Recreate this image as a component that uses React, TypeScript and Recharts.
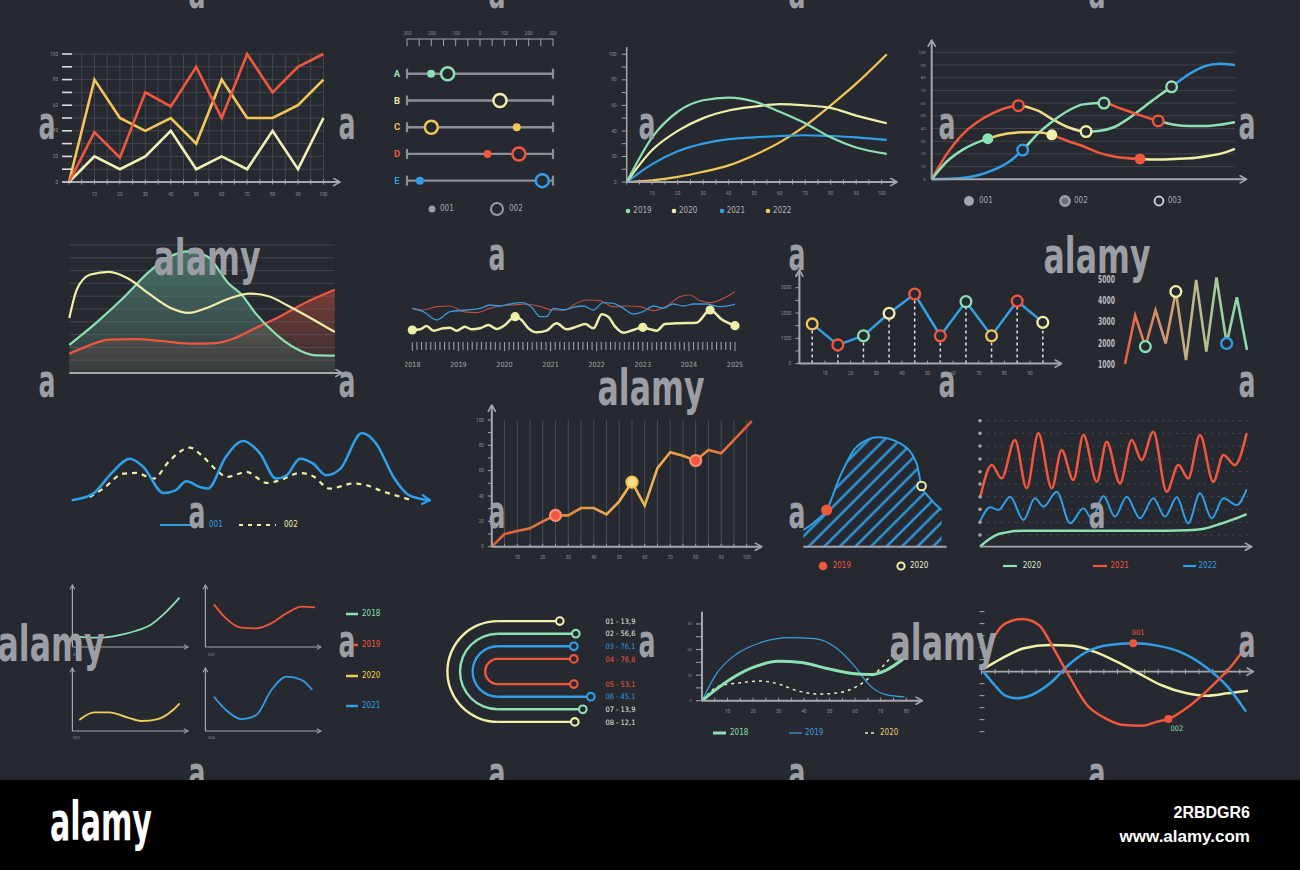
import React from 'react';
import { ComposedChart, LineChart, Line, Area, Scatter, XAxis, YAxis, CartesianGrid, ReferenceLine, PieChart, Pie } from 'recharts';

const BG = '#26292f';
const MINT = '#8ddfb4';
const PALE = '#f1efa9';
const YELLOW = '#f3c658';
const RED = '#f1573d';
const BLUE = '#2f9fe8';
const AXIS = '#a5a7ad';
const TICK = '#8f9198';
const LEG = '#a9abb1';
const FONT = 'Roboto, "DejaVu Sans", sans-serif';
const NARROW = '"Liberation Sans Narrow", "DejaVu Sans Condensed", sans-serif';

// shared tick lists
const T5_100 = [0, 5, 10, 15, 20, 25, 30, 35, 40, 45, 50, 55, 60, 65, 70, 75, 80, 85, 90, 95, 100];
const T10_100 = [0, 10, 20, 30, 40, 50, 60, 70, 80, 90, 100];
const T5_95 = T5_100.slice(0, 20);
const T5_80 = T5_100.slice(0, 17);

// 1. grid line chart
const gridX = [0, 10, 20, 30, 40, 50, 60, 70, 80, 90, 100];
const gridRed = [0, 39, 19, 70, 59, 90, 50, 100, 70, 90, 100];
const gridYellow = [0, 80, 50, 40, 50, 30, 80, 50, 50, 60, 80];
const gridPale = [0, 20, 10, 20, 40, 10, 20, 10, 40, 10, 50];

// 2. sliders
const slRows = ['A', 'B', 'C', 'D', 'E'];
const sl001 = [-201, null, 151, 31, -247];
const sl002 = [-133, 82, -200, 160, 256];
const slTicks = [-300, -250, -200, -150, -100, -50, 0, 50, 100, 150, 200, 250, 300];

// 3. curves
const cvX = [0, 10, 20, 30, 40, 50, 60, 70, 80, 90, 102];
const cv2019 = [0, 35, 55, 64, 66, 63, 55, 46, 35, 27, 22];
const cv2020 = [0, 25, 40, 50, 56, 59, 61, 60, 58, 52, 46];
const cv2021 = [0, 14, 24, 30, 33.5, 35, 36, 36.6, 36, 35, 33];
const cv2022 = [0, 1.3, 4, 8, 13, 21, 31, 44, 60, 77, 100];
const cvYears = ['2019', '2020', '2021', '2022'];

// 4. multi-colour paths
const pathA = [
  { x: 0, y: 0 }, { x: 5, y: 20 }, { x: 10, y: 35 }, { x: 15, y: 45 }, { x: 20, y: 52 }, { x: 28.6, y: 58 },
  { x: 35, y: 54 }, { x: 40, y: 47 }, { x: 45, y: 41 }, { x: 50.9, y: 37.6 }, { x: 55, y: 38 }, { x: 60, y: 41 },
  { x: 65, y: 48 }, { x: 70, y: 57 }, { x: 75, y: 66 }, { x: 79.1, y: 72.8 }, { x: 85, y: 83 }, { x: 90, y: 89 },
  { x: 95, y: 91 }, { x: 100, y: 90 },
];
const pathB = [
  { x: 0, y: 0 }, { x: 5, y: 14 }, { x: 10, y: 23 }, { x: 18.5, y: 32 }, { x: 25, y: 36 }, { x: 30, y: 37 },
  { x: 35, y: 37 }, { x: 39.6, y: 35 }, { x: 45, y: 30 }, { x: 50, y: 26 }, { x: 55, y: 21 }, { x: 60, y: 18 },
  { x: 68.7, y: 16 }, { x: 75, y: 15.5 }, { x: 80, y: 16 }, { x: 85, y: 16.5 }, { x: 90, y: 18 }, { x: 95, y: 20 },
  { x: 100, y: 24 },
];
const pathC = [
  { x: 0, y: 0 }, { x: 10, y: 1 }, { x: 15, y: 3 }, { x: 20, y: 7 }, { x: 25, y: 13 }, { x: 30, y: 23 },
  { x: 35, y: 36 }, { x: 40, y: 46 }, { x: 45, y: 54 }, { x: 50, y: 59 }, { x: 56.8, y: 60 }, { x: 62, y: 56 },
  { x: 68, y: 51 }, { x: 74.7, y: 46 }, { x: 80, y: 43 }, { x: 85, y: 42 }, { x: 90, y: 42 }, { x: 95, y: 43 },
  { x: 100, y: 45 },
];
const markB = [{ x: 18.5, y: 32 }, { x: 39.6, y: 35 }, { x: 68.7, y: 16 }];
const markA = [{ x: 28.6, y: 58 }, { x: 50.9, y: 37.6 }, { x: 79.1, y: 72.8 }];
const markC = [{ x: 30, y: 23 }, { x: 56.8, y: 60 }, { x: 74.7, y: 46 }];

// 5. area chart
const arMintX = [0, 10, 20, 30, 37, 45, 52, 60, 65, 70, 78, 85, 92, 100];
const arMintY = [22, 39, 58, 79, 90, 95, 91, 70, 61, 47, 30, 19.5, 14, 13.5];
const arPaleX = [0, 3, 8, 15, 22, 30, 38, 45, 52, 60, 68, 75, 82, 90, 100];
const arPaleY = [43, 66, 77, 79, 74, 62, 51, 47, 51, 58, 62, 60, 53, 44, 32];
const arRedX = [0, 8, 15, 25, 35, 45, 55, 62, 70, 80, 90, 100];
const arRedY = [15, 22, 26, 26.5, 25, 23, 23.4, 27, 35, 45, 56, 65];

// 6. timeline waves (x in tenths of a year from 2018)
const wvYears = ['2018', '2019', '2020', '2021', '2022', '2023', '2024', '2025'];
const wvPaleX = [0, 1.7, 3.1, 4.6, 6.7, 8.2, 9.6, 11.4, 12.9, 14.7, 16.5, 18.3, 20.1, 22.3, 23.7, 25.2, 27, 29.1, 31.3, 33.5, 35.6, 37.5, 39.3, 41.1, 42.5, 44, 45.8, 47.9, 50, 51.6, 53, 54.8, 57.3, 61.7, 64.6, 67.1, 70];
const wvPaleY = [50, 52, 62, 48, 55, 57, 48, 60, 52, 55, 65, 53, 65, 90, 80, 55, 43, 48, 70, 52, 60, 68, 55, 97, 90, 60, 42, 50, 58, 52, 48, 68, 70, 72, 110, 82, 63];
const wvMarks = [{ x: 0, y: 50 }, { x: 22.3, y: 90 }, { x: 50, y: 58 }, { x: 64.6, y: 110 }, { x: 70, y: 63 }];
const wvBlueX = [0, 2.4, 5.3, 8.2, 11.8, 14.7, 16.8, 19, 21.2, 23.7, 25.9, 27.7, 29.1, 30.6, 32.8, 34.9, 37.1, 39.3, 41.4, 43.6, 45.8, 47.9, 50.1, 52.3, 54.4, 56.6, 58.8, 61, 63.8, 66.7, 70];
const wvBlueY = [115, 105, 80, 105, 110, 115, 125, 122, 128, 132, 118, 90, 90, 115, 110, 118, 122, 110, 132, 130, 115, 98, 105, 122, 115, 128, 122, 128, 128, 120, 127];
const wvRedX = [0, 2.4, 5.3, 8.2, 11.1, 14, 16.8, 19, 21.9, 24.8, 27.7, 30.6, 33.5, 35.6, 37.8, 40.7, 43.6, 46.5, 49.4, 52.3, 55.2, 58.1, 60.2, 62.4, 64.6, 67.5, 70];
const wvRedY = [115, 110, 120, 122, 105, 102, 115, 122, 125, 128, 120, 110, 112, 130, 140, 138, 120, 122, 120, 108, 122, 150, 155, 138, 132, 145, 165];

// 7. dotted line chart
const dtX = [5, 15, 25, 35, 45, 55, 65, 75, 85, 95];
const dtY = [1570, 740, 1100, 1990, 2750, 1100, 2450, 1100, 2470, 1630];
const dtColors = [YELLOW, RED, MINT, PALE, RED, RED, MINT, YELLOW, RED, PALE];

// 8. zigzag
const zgY = [1000, 3280, 1820, 3540, 1970, 4410, 1190, 4960, 1580, 5070, 1970, 4140, 1660];
const zgTicks = [1000, 2000, 3000, 4000, 5000];
const zgMarks = [2, 5, 10];

// 9. flow waves
const flBlueX = [0, 6, 11, 16.3, 20, 25.6, 29, 32, 35.8, 38, 43, 47.9, 52.6, 57, 60, 63.7, 67.4, 71, 75, 81, 85, 89.8, 93.5, 97, 100];
const flBlueY = [10, 30, 90, 135, 110, 32, 40, 67, 50, 45, 140, 188, 150, 75, 85, 135, 120, 85, 105, 212, 180, 80, 30, 15, 10];
const flDotX = [5, 8.8, 14.4, 18, 22.8, 27.4, 33, 36.7, 40.5, 43.3, 48.8, 54.4, 58.1, 63.7, 67.4, 72, 78.6, 82.3, 86, 94.4];
const flDotY = [20, 45, 90, 92, 75, 130, 168, 140, 100, 80, 95, 62, 70, 92, 82, 45, 60, 55, 40, 12];

// 10. trend line
const trX = [0, 5, 10, 15, 20, 25, 30, 35, 40, 45, 50, 55, 60, 65, 70, 75, 80, 85, 90, 102];
const trY = [0, 10, 12.4, 14.5, 20, 24.7, 24.7, 30.5, 30.5, 25.4, 35.8, 51, 32.4, 62, 74.5, 71.7, 68, 76.3, 73.7, 99];
const trMarks = [{ x: 25, y: 24.7 }, { x: 55, y: 51 }, { x: 80, y: 68 }];

// 11. hatched area
const htX = [0, 8.4, 16.9, 26.5, 38.6, 54.2, 70, 81.9, 85.5, 91.6, 100];
const htY = [50, 75, 110, 210, 300, 328, 310, 250, 182, 145, 110];

// 12. oscillations
const osRedX = [0, 4.4, 8.1, 13.1, 17.5, 21.9, 26.9, 30.6, 35, 38.8, 43.8, 47.5, 52.5, 56.9, 60.6, 65, 70, 74.4, 78.1, 82.5, 87.5, 91.3, 95.6, 100];
const osRedY = [145, 245, 205, 320, 175, 340, 175, 290, 200, 335, 195, 315, 190, 320, 260, 345, 165, 245, 205, 335, 195, 275, 245, 340];
const osBlueX = [0, 3.8, 6.9, 11.3, 16.3, 20.6, 23.8, 28.8, 33.8, 38.8, 41.9, 46.3, 50.6, 55, 60, 65, 69.4, 73.8, 78.1, 82.5, 86.9, 91.3, 96.3, 100];
const osBlueY = [75, 118, 110, 150, 80, 145, 120, 165, 70, 115, 85, 152, 90, 150, 85, 145, 90, 148, 70, 160, 85, 145, 125, 172];
const osMintX = [0, 3, 6, 10, 16, 30, 50, 70, 78, 84, 90, 95, 100];
const osMintY = [0, 20, 35, 43, 48, 48, 48, 48, 49, 54, 68, 82, 98];
const osLevels = [35, 73, 112, 150, 188, 225, 263, 302, 340, 378];

// 13-16. small multiples
const mnX1 = [5.9, 15.6, 28.5, 41.5, 54.5, 67.5, 80.4, 92.7];
const mnY1 = [16.6, 15, 15.6, 19.4, 25.8, 35.5, 55.4, 79.6];
const mnX2 = [7.4, 17.8, 31, 44, 57.1, 70.2, 83.3, 94.8];
const mnY2 = [68.8, 46.2, 31.2, 30.1, 38.2, 54.3, 65, 64];
const mnX3 = [5.9, 18.9, 31.8, 48, 59.4, 74, 87, 92.8];
const mnY3 = [17.5, 29.6, 29.6, 21.2, 15.9, 19, 33.3, 44];
const mnX4 = [7.4, 17.8, 31, 44, 57.1, 70.2, 83.3, 92.5];
const mnY4 = [54.4, 33.3, 19, 25.4, 65, 86.2, 81, 65];
const mnYears = ['2018', '2019', '2020', '2021'];
const mnNames = ['001', '002', '003', '004'];

// 17. nested arcs
const arcRows = [4, 3, 2, 1, -1, -2, -3, -4];
const arcEnds = [62, 78, 76, 76, 76, 93, 85, 77];
const arcLabels = ['01 - 13,9', '02 - 56,6', '03 - 76,1', '04 - 76,8', '05 - 53,1', '06 - 45,1', '07 - 13,9', '08 - 12,1'];
const arcLevels = [4, 3, 2, 1];

// 18. three curves
const s18X = [0, 10.5, 20.5, 29.8, 39, 49, 59, 66.2, 72, 79.8];
const s18Y = [0, 8, 13.2, 15.4, 14.9, 12.6, 10.6, 10.2, 11.9, 17.1];
const s19X = [0, 5.7, 12.9, 22.9, 34.3, 44.3, 52.9, 60, 65.7, 72.1, 79.3];
const s19Y = [0, 10.6, 17.8, 22.7, 24.7, 24.3, 20.4, 13.2, 6, 2.4, 1.5];
const s20X = [0, 7.1, 14.3, 22.9, 30, 37.2, 45.7, 52.9, 60, 65.7, 72.8, 78.8];
const s20Y = [0, 5.9, 6.9, 7.7, 6.5, 3.9, 2.6, 3, 5.2, 9.1, 15.6, 24.7];

// 19. crossing curves
const crRedX = [0.7, 4.8, 8.8, 15, 21.1, 26.5, 32, 38.8, 45.6, 52.4, 59.2, 64.6, 68.7, 76.9, 86.4, 93.2, 98.6];
const crRedY = [5, 105, 145, 158, 140, 70, -10, -100, -140, -160, -162, -150, -142, -100, -30, 30, 95];
const crBlueX = [0.7, 4.8, 8.8, 12.9, 18.4, 25.2, 32, 38.8, 46.9, 55.8, 64.6, 72.8, 82.3, 90.5, 97.3];
const crBlueY = [0, -40, -72, -80, -70, -35, 20, 60, 80, 85, 78, 60, 15, -45, -120];
const crPaleX = [0.7, 7.5, 15.6, 25.2, 33.3, 41.5, 49.7, 57.8, 66, 75.5, 82.3, 90.5, 98];
const crPaleY = [8, 40, 70, 80, 78, 60, 30, -5, -40, -65, -72, -65, -57];
const crMarks = [{ x: 55.8, y: 85, name: '001' }, { x: 68.7, y: -142, name: '002' }];
const crTicks = [-180, -144, -108, -72, -36, 36, 72, 108, 144, 180];

// watermark grid
const wmA = [
  [197, 8], [497, 8], [797, 8], [1097, 8],
  [47, 139], [347, 139], [647, 139], [947, 139], [1247, 139],
  [497, 270], [797, 270],
  [47, 397], [347, 397], [947, 397], [1247, 397],
  [197, 528], [497, 528], [797, 528], [1097, 528],
  [347, 657], [647, 657], [1247, 657],
  [197, 789], [497, 789], [797, 789], [1097, 789],
];
const wmWord = [[207, 275], [651, 405], [1097, 273], [51, 661], [943, 660]];

const zip = (xs: number[], ys: number[]) => xs.map((x, i) => ({ x, y: ys[i] }));
const AXL = { stroke: AXIS, strokeWidth: 2, markerEnd: 'url(#arr)' };
const AYL = { stroke: AXIS, strokeWidth: 2, markerStart: 'url(#arr)' };

function bottomTick(every: number, o: any = {}) {
  const { dy = 12, up = 2.5, down = 2.5, fs = 4.6, zero = false, max = 1e9 } = o;
  return (p: any) => {
    const v = p.payload.value;
    const show = v % every === 0 && (zero || v !== 0) && v <= max;
    return (
      <g>
        {(up > 0 || down > 0) && <line x1={p.x} x2={p.x} y1={p.y - up} y2={p.y + down} stroke={AXIS} strokeWidth={1} />}
        {show && <text x={p.x} y={p.y + dy} textAnchor="middle" fontSize={fs} fill={TICK} fontFamily={FONT}>{v}</text>}
      </g>
    );
  };
}

function leftTick(every: number, o: any = {}) {
  const { len = 5, over = 0, gap = 8, fs = 4.6, stroke = AXIS, sw = 1 } = o;
  return (p: any) => {
    const v = p.payload.value;
    return (
      <g>
        {len > 0 && <line x1={p.x - len} x2={p.x + over} y1={p.y} y2={p.y} stroke={stroke} strokeWidth={sw} />}
        {every > 0 && v % every === 0 && <text x={p.x - gap} y={p.y + fs * 0.35} textAnchor="end" fontSize={fs} fill={TICK} fontFamily={FONT}>{v}</text>}
      </g>
    );
  };
}

const ringShape = (colors: string[], r = 5.5, w = 2.3) => (p: any) => (
  <circle cx={p.cx} cy={p.cy} r={r} fill={BG} stroke={colors[p.payload.i % colors.length]} strokeWidth={w} />
);
const dotShape = (colors: string[], r = 5) => (p: any) => (
  <circle cx={p.cx} cy={p.cy} r={r} fill={colors[p.payload.i % colors.length]} />
);
const idx = (arr: any[]) => arr.map((d, i) => ({ ...d, i }));

const Abs = ({ x, y, w, h, children }: any) => (
  <div style={{ position: 'absolute', left: x, top: y, width: w, height: h }}>{children}</div>
);

const Txt = ({ x, y, c = LEG, fs = 8, children, family = NARROW }: any) => (
  <div style={{ position: 'absolute', left: x, top: y - fs / 2, fontSize: fs, lineHeight: `${fs}px`, color: c, fontFamily: family, whiteSpace: 'nowrap' }}>
    {children}
  </div>
);

const Sym = ({ x, y, r, fill = 'none', stroke = 'none', sw = 0 }: any) => (
  <svg style={{ position: 'absolute', left: x - 10, top: y - 10 }} width={20} height={20}>
    <circle cx={10} cy={10} r={r} fill={fill} stroke={stroke} strokeWidth={sw} />
  </svg>
);

const Dash = ({ x1, x2, y, c, w = 2, dash }: any) => (
  <svg style={{ position: 'absolute', left: x1, top: y - 5 }} width={x2 - x1} height={10}>
    <line x1={0} x2={x2 - x1} y1={5} y2={5} stroke={c} strokeWidth={w} strokeDasharray={dash} />
  </svg>
);

function Defs() {
  const stops = (list: [number, string][]) => list.map(([o, c], i) => <stop key={i} offset={o} stopColor={c} />);
  return (
    <svg width={0} height={0} style={{ position: 'absolute' }}>
      <defs>
        <marker id="arr" viewBox="0 0 10 10" refX="8.5" refY="5" markerWidth="9" markerHeight="9" markerUnits="userSpaceOnUse" orient="auto-start-reverse">
          <path d="M1.5,1 L8.5,5 L1.5,9" fill="none" stroke={AXIS} strokeWidth="1.8" strokeLinecap="round" strokeLinejoin="round" />
        </marker>
        <marker id="arrS" viewBox="0 0 10 10" refX="8.5" refY="5" markerWidth="6" markerHeight="6" markerUnits="userSpaceOnUse" orient="auto-start-reverse">
          <path d="M1.5,1 L8.5,5 L1.5,9" fill="none" stroke={AXIS} strokeWidth="1.8" />
        </marker>
        <marker id="arrBlue" viewBox="0 0 10 10" refX="8.5" refY="5" markerWidth="11" markerHeight="11" markerUnits="userSpaceOnUse" orient="auto">
          <path d="M1.5,1 L8.5,5 L1.5,9" fill="none" stroke={BLUE} strokeWidth="2" strokeLinecap="round" strokeLinejoin="round" />
        </marker>
        <linearGradient id="gA" x1="0" y1="0" x2="1" y2="0">
          {stops([[0, RED], [0.286, RED], [0.286, '#f2d479'], [0.509, '#f0e6a4'], [0.509, MINT], [0.791, MINT], [0.791, BLUE], [1, BLUE]])}
        </linearGradient>
        <linearGradient id="gB" x1="0" y1="0" x2="1" y2="0">
          {stops([[0, MINT], [0.185, MINT], [0.185, '#f2d36e'], [0.396, '#f2d36e'], [0.396, RED], [0.687, RED], [0.687, PALE], [1, PALE]])}
        </linearGradient>
        <linearGradient id="gC" x1="0" y1="0" x2="1" y2="0">
          {stops([[0, BLUE], [0.3, BLUE], [0.3, MINT], [0.568, MINT], [0.568, RED], [0.747, RED], [0.747, MINT], [1, MINT]])}
        </linearGradient>
        <linearGradient id="zig" x1="0" y1="0" x2="1" y2="0">
          {stops([[0, '#e9603f'], [0.3, '#d49468'], [0.55, '#bdb784'], [0.8, '#9fcf9f'], [1, '#86dcb0']])}
        </linearGradient>
        <linearGradient id="trend" x1="0" y1="0" x2="1" y2="0">
          {stops([[0, '#e05a3a'], [0.3, '#e48a40'], [0.5, '#ecb44e'], [0.62, '#ecb44e'], [0.8, '#e48a40'], [1, '#e05a3a']])}
        </linearGradient>
        <linearGradient id="mintFill" x1="0" y1="0" x2="0" y2="1">
          <stop offset="0" stopColor="#6fc3a8" stopOpacity="0.45" />
          <stop offset="1" stopColor="#3a4748" stopOpacity="0.5" />
        </linearGradient>
        <linearGradient id="redFill" x1="0" y1="0" x2="0" y2="1">
          <stop offset="0" stopColor="#c8503c" stopOpacity="0.5" />
          <stop offset="1" stopColor="#4a3333" stopOpacity="0.45" />
        </linearGradient>
        <pattern id="hatch" width="11" height="11" patternUnits="userSpaceOnUse" patternTransform="rotate(45)">
          <line x1="5.5" y1="0" x2="5.5" y2="11" stroke={BLUE} strokeWidth="2.3" />
        </pattern>
      </defs>
    </svg>
  );
}

function TopGrid() {
  const data = gridX.map((x, i) => ({ x, red: gridRed[i], yellow: gridYellow[i], pale: gridPale[i] }));
  return (
    <Abs x={40} y={40} w={312} h={165}>
      <ComposedChart width={312} height={165} data={data} margin={{ top: 14, right: 12, left: 0, bottom: 0 }}>
        {T10_100.slice(1).map((v) => (
          <ReferenceLine key={'h' + v} segment={[{ x: 0, y: v }, { x: 100, y: v }]} stroke="#474a53" strokeWidth={0.9} />
        ))}
        {T5_100.slice(1).map((v) => (
          <ReferenceLine key={'v' + v} segment={[{ x: v, y: 0 }, { x: v, y: 100 }]} stroke="#474a53" strokeWidth={0.9} />
        ))}
        <XAxis dataKey="x" type="number" domain={[0, 106.5]} ticks={T5_100} interval={0} height={23} tickSize={0} tickMargin={0} tickLine={false} axisLine={AXL} tick={bottomTick(10, { dy: 14 })} />
        <YAxis type="number" domain={[0, 100]} ticks={T10_100} interval={0} width={29} tickSize={0} tickMargin={0} tickLine={false} axisLine={false} tick={leftTick(20, { len: 7, over: 3, gap: 11, stroke: '#d9dbe0', sw: 1.6 })} />
        <Line dataKey="pale" type="linear" stroke="#f2f0b8" strokeWidth={2.6} dot={false} isAnimationActive={false} />
        <Line dataKey="yellow" type="linear" stroke={YELLOW} strokeWidth={2.6} dot={false} isAnimationActive={false} />
        <Line dataKey="red" type="linear" stroke={RED} strokeWidth={2.6} dot={false} isAnimationActive={false} />
      </ComposedChart>
    </Abs>
  );
}

function Sliders() {
  const colors = [MINT, PALE, YELLOW, RED, BLUE];
  const rows = slRows.map((_, i) => i + 1);
  const caps = idx(rows.flatMap((r) => [{ x: -300, y: r }, { x: 300, y: r }]));
  const filled = sl001.map((x, i) => ({ x, y: i + 1, i })).filter((d) => d.x !== null);
  const rings = sl002.map((x, i) => ({ x, y: i + 1, i }));
  const topTick = (p: any) => {
    const v = p.payload.value;
    return (
      <g>
        <line x1={p.x} x2={p.x} y1={p.y} y2={p.y + 7} stroke={AXIS} strokeWidth={1} />
        {v % 100 === 0 && <text x={p.x} y={p.y - 4} textAnchor="middle" fontSize={4.5} fill={TICK} fontFamily={FONT}>{v}</text>}
      </g>
    );
  };
  const letterTick = (p: any) => (
    <text x={p.x - 10} y={p.y + 3.3} textAnchor="middle" fontSize={9.5} fontWeight={700} fill={colors[p.payload.value - 1]} fontFamily={FONT}>
      {slRows[p.payload.value - 1]}
    </text>
  );
  return (
    <Abs x={380} y={19} w={180} h={175}>
      <ComposedChart width={180} height={175} margin={{ top: 0, right: 7, left: 0, bottom: 0 }}>
        <XAxis orientation="top" dataKey="x" type="number" domain={[-300, 300]} ticks={slTicks} interval={0} height={20} tickSize={0} tickMargin={0} tickLine={false} axisLine={{ stroke: AXIS, strokeWidth: 1.2 }} tick={topTick} />
        <YAxis dataKey="y" type="number" domain={[-0.3, 5.5]} reversed ticks={rows} interval={0} width={27} tickSize={0} tickMargin={0} tickLine={false} axisLine={false} tick={letterTick} />
        {rows.map((r) => (
          <ReferenceLine key={r} y={r} stroke="#8c8f96" strokeWidth={2.4} />
        ))}
        <Scatter data={caps} dataKey="y" isAnimationActive={false} shape={(p: any) => <rect x={p.cx - 1.1} y={p.cy - 5} width={2.2} height={10} fill="#8c8f96" />} />
        <Scatter data={filled} dataKey="y" isAnimationActive={false} shape={dotShape(colors, 4)} />
        <Scatter data={rings} dataKey="y" isAnimationActive={false} shape={ringShape(colors, 6.5, 2.5)} />
      </ComposedChart>
      <Sym x={52} y={190} r={3.5} fill="#9a9ca2" />
      <Txt x={60} y={190}>001</Txt>
      <Sym x={117} y={190} r={6} stroke="#9a9ca2" sw={2} />
      <Txt x={129} y={190}>002</Txt>
    </Abs>
  );
}

function Curves() {
  const data = cvX.map((x, i) => ({ x, a: cv2019[i], b: cv2020[i], c: cv2021[i], d: cv2022[i] }));
  const colors = [MINT, PALE, BLUE, YELLOW];
  const legX = [628.3, 674, 721.7, 768];
  return (
    <>
      <Abs x={598} y={40} w={307} h={162}>
        <ComposedChart width={307} height={162} data={data} margin={{ top: 7, right: 8, left: 0, bottom: 0 }}>
          <XAxis dataKey="x" type="number" domain={[0, 106]} ticks={T5_100} interval={0} height={20} tickSize={0} tickMargin={0} tickLine={false} axisLine={AXL} tick={bottomTick(10, { dy: 13 })} />
          <YAxis type="number" domain={[0, 105.7]} ticks={T10_100} interval={0} width={28.7} tickSize={0} tickMargin={0} tickLine={false} axisLine={{ stroke: AXIS, strokeWidth: 1.5 }} tick={leftTick(20, { len: 5, gap: 10 })} />
          {['d', 'c', 'b', 'a'].map((k) => (
            <Line key={k} dataKey={k} type="monotone" stroke={colors['abcd'.indexOf(k)]} strokeWidth={2.2} dot={false} isAnimationActive={false} />
          ))}
        </ComposedChart>
      </Abs>
      {cvYears.map((y, i) => (
        <React.Fragment key={y}>
          <Sym x={legX[i]} y={210.7} r={2.3} fill={colors[i]} />
          <Txt x={legX[i] + 5} y={210.7} c="#b0b2b7">{y}</Txt>
        </React.Fragment>
      ))}
    </>
  );
}

function Paths() {
  return (
    <>
      <Abs x={905} y={35} w={347} h={155}>
        <ComposedChart width={347} height={155} margin={{ top: 5, right: 5.5, left: 0, bottom: 0 }}>
          {T10_100.slice(1).map((v) => (
            <ReferenceLine key={v} segment={[{ x: 0, y: v }, { x: 100, y: v }]} stroke="#41444c" strokeWidth={1} />
          ))}
          <XAxis dataKey="x" type="number" domain={[0, 103.8]} height={10.7} tick={false} tickLine={false} axisLine={AXL} />
          <YAxis dataKey="y" type="number" domain={[0, 109.7]} ticks={T10_100} interval={0} width={26.7} tickSize={0} tickMargin={0} tickLine={false} axisLine={AYL} tick={leftTick(10, { len: 0, gap: 6, fs: 4.3 })} />
          <Line data={pathA} dataKey="y" type="monotone" stroke="url(#gA)" strokeWidth={2.5} dot={false} isAnimationActive={false} />
          <Line data={pathC} dataKey="y" type="monotone" stroke="url(#gC)" strokeWidth={2.5} dot={false} isAnimationActive={false} />
          <Line data={pathB} dataKey="y" type="monotone" stroke="url(#gB)" strokeWidth={2.5} dot={false} isAnimationActive={false} />
          <Scatter data={idx(markB)} dataKey="y" isAnimationActive={false} shape={dotShape([MINT, PALE, RED], 5.5)} />
          <Scatter data={idx(markA)} dataKey="y" isAnimationActive={false} shape={ringShape([RED, PALE, MINT], 5.3, 2.4)} />
          <Scatter data={idx(markC)} dataKey="y" isAnimationActive={false} shape={ringShape([BLUE, MINT, RED], 5.3, 2.4)} />
        </ComposedChart>
      </Abs>
      <Sym x={969.3} y={201} r={5} fill="#a4a6ab" />
      <Txt x={979} y={201}>001</Txt>
      <Sym x={1065.3} y={201} r={4.6} fill="#6e7077" stroke="#9b9da3" sw={2.6} />
      <Txt x={1074} y={201}>002</Txt>
      <Sym x={1158.7} y={201} r={4.4} fill={BG} stroke="#c9cbd0" sw={2} />
      <Txt x={1167.7} y={201}>003</Txt>
    </>
  );
}

function Areas() {
  return (
    <Abs x={60} y={235} w={290} h={144}>
      <ComposedChart width={290} height={144} margin={{ top: 10, right: 8, left: 9.3, bottom: 0 }}>
        <XAxis dataKey="x" type="number" domain={[0, 102.7]} height={6} tick={false} tickLine={false} axisLine={{ ...AXL, strokeWidth: 1.8 }} />
        <YAxis type="number" domain={[0, 100]} hide />
        <Area data={zip(arRedX, arRedY)} dataKey="y" type="monotone" fill="url(#redFill)" fillOpacity={1} stroke="none" isAnimationActive={false} />
        <Area data={zip(arMintX, arMintY)} dataKey="y" type="monotone" fill="url(#mintFill)" fillOpacity={1} stroke="none" isAnimationActive={false} />
        {T10_100.slice(1).map((v) => (
          <ReferenceLine key={v} segment={[{ x: 0, y: v }, { x: 100, y: v }]} stroke="#6a6d75" strokeOpacity={0.45} strokeWidth={1} />
        ))}
        <Line data={zip(arRedX, arRedY)} dataKey="y" type="monotone" stroke={RED} strokeWidth={2.2} dot={false} isAnimationActive={false} />
        <Line data={zip(arMintX, arMintY)} dataKey="y" type="monotone" stroke={MINT} strokeWidth={2.2} dot={false} isAnimationActive={false} />
        <Line data={zip(arPaleX, arPaleY)} dataKey="y" type="monotone" stroke={PALE} strokeWidth={2.2} dot={false} isAnimationActive={false} />
      </ComposedChart>
    </Abs>
  );
}

function Waves() {
  const ticks = Array.from({ length: 71 }, (_, i) => i);
  const tick = (p: any) => {
    const v = p.payload.value;
    const major = v % 10 === 0;
    return (
      <g>
        <line x1={p.x} x2={p.x} y1={p.y} y2={p.y + (major ? 9 : 8)} stroke="#9a9ca3" strokeWidth={1.1} />
        {major && <text x={p.x} y={p.y + 25} textAnchor="middle" fontSize={7.2} fill="#a3a5ab" fontFamily={NARROW}>{wvYears[v / 10]}</text>}
      </g>
    );
  };
  return (
    <Abs x={405} y={275} w={338} h={97}>
      <ComposedChart width={338} height={97} margin={{ top: 5, right: 8, left: 7.3, bottom: 0 }}>
        <XAxis dataKey="x" type="number" domain={[0, 70]} ticks={ticks} interval={0} height={30} tickSize={0} tickMargin={0} tickLine={false} axisLine={false} tick={tick} />
        <YAxis dataKey="y" type="number" domain={[14, 200]} hide />
        <Line data={zip(wvRedX, wvRedY)} dataKey="y" type="monotone" stroke="#b64c45" strokeWidth={1.2} dot={false} isAnimationActive={false} />
        <Line data={zip(wvBlueX, wvBlueY)} dataKey="y" type="monotone" stroke="#3b98d6" strokeWidth={1.3} dot={false} isAnimationActive={false} />
        <Line data={zip(wvPaleX, wvPaleY)} dataKey="y" type="monotone" stroke="#eeeeaa" strokeWidth={2.5} dot={false} isAnimationActive={false} />
        <Scatter data={idx(wvMarks)} dataKey="y" isAnimationActive={false} shape={dotShape(['#eeeeaa'], 4.6)} />
      </ComposedChart>
    </Abs>
  );
}

function Dots() {
  const pts = dtX.map((x, i) => ({ x, y: dtY[i], i }));
  return (
    <Abs x={770} y={265} w={300} h={115}>
      <ComposedChart width={300} height={115} margin={{ top: 5, right: 8.5, left: 0, bottom: 0 }}>
        <XAxis dataKey="x" type="number" domain={[0, 102.3]} ticks={T5_95} interval={0} height={16.4} tickSize={0} tickMargin={0} tickLine={false} axisLine={AXL} tick={bottomTick(10, { dy: 11, up: 3, down: 0 })} />
        <YAxis dataKey="y" type="number" domain={[0, 3700]} ticks={[0, 500, 1000, 1500, 2000, 2500, 3000, 3500]} interval={0} width={29.4} tickSize={0} tickMargin={0} tickLine={false} axisLine={AYL} tick={leftTick(1000, { len: 4, gap: 8 })} />
        {pts.map((d) => (
          <ReferenceLine key={d.i} segment={[{ x: d.x, y: 0 }, { x: d.x, y: d.y }]} stroke="#e4e4e4" strokeWidth={1.5} strokeDasharray="3 3" />
        ))}
        <Line data={pts} dataKey="y" type="linear" stroke="#34a0e6" strokeWidth={2.5} dot={false} isAnimationActive={false} />
        <Scatter data={pts} dataKey="y" isAnimationActive={false} shape={ringShape(dtColors, 5.4, 2.3)} />
      </ComposedChart>
    </Abs>
  );
}

function Zigzag() {
  const pts = zgY.map((y, x) => ({ x, y }));
  const marks = zgMarks.map((k, i) => ({ x: k, y: zgY[k], i }));
  const tick = (p: any) => (
    <text x={p.x - 10} y={p.y + 3.8} textAnchor="end" fontSize={11} fontWeight={700} fill="#b9bbc0" fontFamily={NARROW} textLength={17} lengthAdjust="spacingAndGlyphs">
      {p.payload.value}
    </text>
  );
  return (
    <Abs x={1085} y={270} w={167} h={100}>
      <ComposedChart width={167} height={100} margin={{ top: 6.9, right: 5, left: 0, bottom: 6 }}>
        <XAxis dataKey="x" type="number" domain={[0, 12]} hide />
        <YAxis dataKey="y" type="number" domain={[1000, 5100]} ticks={zgTicks} interval={0} width={40} tickSize={0} tickMargin={0} tickLine={false} axisLine={false} tick={tick} />
        <Line data={pts} dataKey="y" type="linear" stroke="url(#zig)" strokeWidth={2.6} dot={false} isAnimationActive={false} />
        <Scatter data={marks} dataKey="y" isAnimationActive={false} shape={ringShape([MINT, PALE, BLUE], 5.4, 2.3)} />
      </ComposedChart>
    </Abs>
  );
}

function Flow() {
  return (
    <>
      <Abs x={62} y={420.7} w={378} h={88}>
        <ComposedChart width={378} height={88} margin={{ top: 6, right: 10, left: 9.7, bottom: 5.4 }}>
          <XAxis dataKey="x" type="number" domain={[0, 100]} hide />
          <YAxis dataKey="y" type="number" domain={[0, 230]} hide />
          <Line data={zip(flDotX, flDotY)} dataKey="y" type="monotone" stroke={PALE} strokeWidth={2.2} strokeDasharray="5 5" dot={false} isAnimationActive={false} />
          <Line data={zip(flBlueX, flBlueY)} dataKey="y" type="monotone" stroke={BLUE} strokeWidth={2.5} markerEnd="url(#arrBlue)" dot={false} isAnimationActive={false} />
        </ComposedChart>
      </Abs>
      <Dash x1={160} x2={200} y={525} c={BLUE} w={2.2} />
      <Txt x={209} y={525} c={BLUE}>001</Txt>
      <Dash x1={239} x2={276} y={525} c={PALE} w={2} dash="4 5" />
      <Txt x={284} y={525} c={PALE}>002</Txt>
    </>
  );
}

function Trend() {
  const markStyle = [
    { f: RED, s: '#f79072' },
    { f: '#f8e08a', s: '#f3c64f' },
    { f: RED, s: '#f79072' },
  ];
  return (
    <Abs x={462} y={400} w={308} h={165}>
      <ComposedChart width={308} height={165} margin={{ top: 5, right: 8.3, left: 0, bottom: 0 }}>
        {T5_100.slice(1).map((v) => (
          <ReferenceLine key={v} segment={[{ x: v, y: 0 }, { x: v, y: 100 }]} stroke="#4a4d56" strokeWidth={1} />
        ))}
        <XAxis dataKey="x" type="number" domain={[0, 105.9]} ticks={T5_100} interval={0} height={18.3} tickSize={0} tickMargin={0} tickLine={false} axisLine={AXL} tick={bottomTick(10, { dy: 12, up: 3, down: 0 })} />
        <YAxis dataKey="y" type="number" domain={[0, 111.8]} ticks={T10_100} interval={0} width={29.8} tickSize={0} tickMargin={0} tickLine={false} axisLine={AYL} tick={leftTick(20, { len: 4, gap: 8 })} />
        <Line data={zip(trX, trY)} dataKey="y" type="linear" stroke="url(#trend)" strokeWidth={2.6} dot={false} isAnimationActive={false} />
        <Scatter data={idx(trMarks)} dataKey="y" isAnimationActive={false} shape={(p: any) => <circle cx={p.cx} cy={p.cy} r={5.5} fill={markStyle[p.payload.i].f} stroke={markStyle[p.payload.i].s} strokeWidth={2.2} />} />
      </ComposedChart>
    </Abs>
  );
}

function Hatch() {
  const marks = [{ x: htX[2], y: htY[2], i: 0 }, { x: htX[8], y: htY[8], i: 1 }];
  return (
    <>
      <Abs x={795} y={428} w={157} h={123}>
        <ComposedChart width={157} height={123} margin={{ top: 5.3, right: 5.4, left: 8.3, bottom: 0 }}>
          <XAxis dataKey="x" type="number" domain={[0, 103.6]} height={4.3} tick={false} tickLine={false} axisLine={{ stroke: AXIS, strokeWidth: 2 }} />
          <YAxis dataKey="y" type="number" domain={[0, 340]} hide />
          <Area data={zip(htX, htY)} dataKey="y" type="monotone" fill="url(#hatch)" fillOpacity={1} stroke={BLUE} strokeWidth={2} isAnimationActive={false} />
          <Scatter data={marks} dataKey="y" isAnimationActive={false} shape={(p: any) => (p.payload.i === 0 ? <circle cx={p.cx} cy={p.cy} r={5.5} fill={RED} /> : <circle cx={p.cx} cy={p.cy} r={4.3} fill={BG} stroke={PALE} strokeWidth={2} />)} />
        </ComposedChart>
      </Abs>
      <Sym x={823.3} y={565.7} r={4.3} fill={RED} />
      <Txt x={832.7} y={565.7} c={RED}>2019</Txt>
      <Sym x={900.7} y={565.7} r={3.6} fill={BG} stroke={PALE} sw={2} />
      <Txt x={910} y={565.7} c="#e9e9dc">2020</Txt>
    </>
  );
}

function Oscill() {
  const dotTick = (p: any) => <circle cx={p.x} cy={p.y} r={1.8} fill="#a0a2a8" />;
  return (
    <>
      <Abs x={965} y={415} w={292} h={136}>
        <ComposedChart width={292} height={136} margin={{ top: 5.7, right: 5.3, left: 0, bottom: 0 }}>
          <CartesianGrid vertical={false} stroke="#4a4d55" strokeDasharray="2 5" />
          <XAxis dataKey="x" type="number" domain={[0, 101.9]} height={4.3} tick={false} tickLine={false} axisLine={{ ...AXL, strokeWidth: 1.8 }} />
          <YAxis dataKey="y" type="number" domain={[0, 378]} ticks={osLevels} interval={0} width={15} tickSize={0} tickMargin={0} tickLine={false} axisLine={false} tick={dotTick} />
          <Line data={zip(osMintX, osMintY)} dataKey="y" type="monotone" stroke={MINT} strokeWidth={2.5} dot={false} isAnimationActive={false} />
          <Line data={zip(osBlueX, osBlueY)} dataKey="y" type="monotone" stroke={BLUE} strokeWidth={2} dot={false} isAnimationActive={false} />
          <Line data={zip(osRedX, osRedY)} dataKey="y" type="monotone" stroke={RED} strokeWidth={2.5} dot={false} isAnimationActive={false} />
        </ComposedChart>
      </Abs>
      <Dash x1={1003} x2={1017} y={565.7} c={MINT} w={2.2} />
      <Txt x={1022.7} y={565.7} c="#d9e9d9">2020</Txt>
      <Dash x1={1093} x2={1107} y={565.7} c={RED} w={2.2} />
      <Txt x={1110.5} y={565.7} c={RED}>2021</Txt>
      <Dash x1={1183} x2={1196} y={565.7} c={BLUE} w={2.2} />
      <Txt x={1198.5} y={565.7} c={BLUE}>2022</Txt>
    </>
  );
}

function Mini({ x, y, h, xs, ys, color }: any) {
  const data = zip(xs, ys);
  return (
    <Abs x={x} y={y} w={126} h={h}>
      <LineChart width={126} height={h} data={data} margin={{ top: 5, right: 4, left: 5.4, bottom: 0 }}>
        <XAxis dataKey="x" type="number" domain={[0, 100]} height={3} tick={false} tickLine={false} axisLine={{ stroke: AXIS, strokeWidth: 1.2, markerEnd: 'url(#arrS)' }} />
        <YAxis type="number" domain={[0, 100]} width={1} tick={false} tickLine={false} axisLine={{ stroke: AXIS, strokeWidth: 1.2, markerStart: 'url(#arrS)' }} />
        <Line dataKey="y" type="monotone" stroke={color} strokeWidth={1.8} dot={false} isAnimationActive={false} />
      </LineChart>
    </Abs>
  );
}

function Minis() {
  const colors = [MINT, RED, '#f1cf58', BLUE];
  const legY = [614, 645, 676, 706];
  const nameXY = [[73, 655], [208, 655], [73, 738], [208, 738]];
  return (
    <>
      <Mini x={66} y={580} h={70} xs={mnX1} ys={mnY1} color={colors[0]} />
      <Mini x={199} y={580} h={70} xs={mnX2} ys={mnY2} color={colors[1]} />
      <Mini x={66} y={663} h={71} xs={mnX3} ys={mnY3} color={colors[2]} />
      <Mini x={199} y={663} h={71} xs={mnX4} ys={mnY4} color={colors[3]} />
      {mnNames.map((n, i) => (
        <Txt key={n} x={nameXY[i][0]} y={nameXY[i][1]} fs={4} c="#8a8c93" family={FONT}>{n}</Txt>
      ))}
      {mnYears.map((yr, i) => (
        <React.Fragment key={yr}>
          <Dash x1={346} x2={358} y={legY[i]} c={colors[i]} w={2.5} />
          <Txt x={362} y={legY[i]} c={colors[i]}>{yr}</Txt>
        </React.Fragment>
      ))}
    </>
  );
}

function Arcs() {
  const W = 220;
  const H = 130;
  const lineColors = [PALE, MINT, BLUE, RED, RED, BLUE, MINT, PALE];
  const labelColors = ['#e9e9e0', '#e9e9e0', BLUE, RED, RED, BLUE, '#e9e9e0', '#e9e9e0'];
  const ringColors = [PALE, MINT, BLUE, RED];
  const rings = arcRows.map((r, i) => ({ x: arcEnds[i], y: r, i }));
  const labelTick = (p: any) => {
    const k = arcRows.indexOf(p.payload.value);
    return (
      <text x={p.x + 7.7} y={p.y + 2.6} fontSize={7.4} fill={labelColors[k]} fontFamily={NARROW}>
        {arcLabels[k]}
      </text>
    );
  };
  return (
    <Abs x={440} y={605} w={W} h={H}>
      <div style={{ position: 'absolute', left: 0, top: 0 }}>
        <PieChart width={W} height={H} margin={{ top: 0, right: 0, bottom: 0, left: 0 }}>
          {arcLevels.map((k, j) => (
            <Pie key={k} data={[{ v: 1 }]} dataKey="v" cx={57.8} cy={66.5} innerRadius={k * 12.6 - 1.2} outerRadius={k * 12.6 + 1.2} startAngle={90} endAngle={270} fill={ringColors[j]} stroke="none" isAnimationActive={false} />
          ))}
        </PieChart>
      </div>
      <div style={{ position: 'absolute', left: 0, top: 0 }}>
        <ComposedChart width={W} height={H} margin={{ top: 9.8, right: 7.2, left: 57.8, bottom: 6.8 }}>
          <XAxis dataKey="x" type="number" domain={[0, 100]} hide />
          <YAxis orientation="right" dataKey="y" type="number" domain={[-4.5, 4.5]} ticks={arcRows} interval={0} width={55} tickSize={0} tickMargin={0} tickLine={false} axisLine={false} tick={labelTick} />
          {arcRows.map((r, i) => (
            <Line key={i} data={[{ x: 0, y: r }, { x: arcEnds[i], y: r }]} dataKey="y" type="linear" stroke={lineColors[i]} strokeWidth={2.4} dot={false} isAnimationActive={false} />
          ))}
          <Scatter data={rings} dataKey="y" isAnimationActive={false} shape={ringShape(lineColors, 3.8, 2.1)} />
        </ComposedChart>
      </div>
    </Abs>
  );
}

function Three() {
  return (
    <>
      <Abs x={680} y={607} w={249} h={112}>
        <ComposedChart width={249} height={112} margin={{ top: 4.7, right: 6.7, left: 0, bottom: 0 }}>
          <XAxis dataKey="x" type="number" domain={[0, 86.3]} ticks={T5_80} interval={0} height={18.3} tickSize={0} tickMargin={0} tickLine={false} axisLine={AXL} tick={bottomTick(10, { dy: 12, up: 3, down: 0 })} />
          <YAxis dataKey="y" type="number" domain={[0, 34.8]} ticks={[0, 5, 10, 15, 20, 25, 30]} interval={0} width={22} tickSize={0} tickMargin={0} tickLine={false} axisLine={{ stroke: AXIS, strokeWidth: 2 }} tick={leftTick(10, { len: 6, gap: 10, fs: 4.3 })} />
          <Line data={zip(s20X, s20Y)} dataKey="y" type="monotone" stroke="#eeeebb" strokeWidth={1.5} strokeDasharray="3 4" dot={false} isAnimationActive={false} />
          <Line data={zip(s19X, s19Y)} dataKey="y" type="monotone" stroke="#3a9fe0" strokeWidth={1.2} dot={false} isAnimationActive={false} />
          <Line data={zip(s18X, s18Y)} dataKey="y" type="monotone" stroke={MINT} strokeWidth={3} dot={false} isAnimationActive={false} />
        </ComposedChart>
      </Abs>
      <Dash x1={712.6} x2={726.2} y={733} c={MINT} w={3} />
      <Txt x={730} y={733} c={MINT}>2018</Txt>
      <Dash x1={789} x2={802} y={733} c="#3a9fe0" w={1.2} />
      <Txt x={805} y={733} c="#3a9fe0">2019</Txt>
      <Dash x1={865} x2={877} y={733} c="#eeeebb" w={1.5} dash="3 3" />
      <Txt x={880} y={733} c="#e8cf6a">2020</Txt>
    </>
  );
}

function Cross() {
  const yTick = (p: any) => <line x1={p.x - 2} x2={p.x + 3} y1={p.y} y2={p.y} stroke={AXIS} strokeWidth={1} />;
  const markShape = (p: any) => {
    const first = p.payload.name === '001';
    return (
      <g>
        <circle cx={p.cx} cy={p.cy} r={4} fill={RED} />
        <text x={p.cx + (first ? 5 : 8.6)} y={p.cy + (first ? -8.5 : 12.5)} textAnchor="middle" fontSize={7.5} fill={first ? RED : MINT} fontFamily={NARROW}>
          {p.payload.name}
        </text>
      </g>
    );
  };
  return (
    <Abs x={970} y={603} w={289} h={132}>
      <ComposedChart width={289} height={132} margin={{ top: 5.3, right: 5.6, left: 0, bottom: 0 }}>
        <XAxis dataKey="x" type="number" domain={[0, 100]} hide />
        <YAxis dataKey="y" type="number" domain={[-190, 190]} ticks={crTicks} interval={0} width={11.5} tickSize={0} tickMargin={0} tickLine={false} axisLine={false} tick={yTick} />
        <ReferenceLine y={0} stroke={AXIS} strokeWidth={1.6} markerEnd="url(#arr)" />
        {T5_95.map((v) => (
          <ReferenceLine key={v} segment={[{ x: v, y: -8 }, { x: v, y: 8 }]} stroke={AXIS} strokeWidth={1} />
        ))}
        <Line data={zip(crPaleX, crPaleY)} dataKey="y" type="monotone" stroke={PALE} strokeWidth={2.5} dot={false} isAnimationActive={false} />
        <Line data={zip(crBlueX, crBlueY)} dataKey="y" type="monotone" stroke={BLUE} strokeWidth={2.5} dot={false} isAnimationActive={false} />
        <Line data={zip(crRedX, crRedY)} dataKey="y" type="monotone" stroke={RED} strokeWidth={2.5} dot={false} isAnimationActive={false} />
        <Scatter data={crMarks} dataKey="y" isAnimationActive={false} shape={markShape} />
      </ComposedChart>
    </Abs>
  );
}

function Watermarks() {
  return (
    <svg width={1300} height={780} style={{ position: 'absolute', left: 0, top: 0, pointerEvents: 'none' }}>
      {wmA.map(([x, y], i) => (
        <text key={'a' + i} x={x} y={y} textAnchor="middle" fontSize={46} fontWeight={700} fill="#9c9ea5" fontFamily={NARROW} textLength={17} lengthAdjust="spacingAndGlyphs">
          a
        </text>
      ))}
      {wmWord.map(([x, y], i) => (
        <text key={'w' + i} x={x} y={y} textAnchor="middle" fontSize={50} fontWeight={700} fill="#9c9ea5" fontFamily={NARROW} textLength={107} lengthAdjust="spacingAndGlyphs">
          alamy
        </text>
      ))}
    </svg>
  );
}

function Footer() {
  return (
    <svg width={1300} height={90} style={{ position: 'absolute', left: 0, top: 780 }}>
      <rect x={0} y={0} width={1300} height={90} fill="#000" />
      <text x={50} y={60} fontSize={54} fontWeight={700} fill="#fff" fontFamily={NARROW} textLength={102} lengthAdjust="spacingAndGlyphs">
        alamy
      </text>
      <text x={1250} y={38} textAnchor="end" fontSize={16} fontWeight={700} fill="#fff" fontFamily='"Liberation Sans", Arial, sans-serif'>
        2RBDGR6
      </text>
      <text x={1250} y={62} textAnchor="end" fontSize={17} fontWeight={700} fill="#fff" fontFamily='"Liberation Sans", Arial, sans-serif'>
        www.alamy.com
      </text>
    </svg>
  );
}

export default function App() {
  return (
    <div style={{ position: 'absolute', left: 0, top: 0, width: 1300, height: 870, background: BG, overflow: 'hidden', fontFamily: FONT }}>
      <Defs />
      <TopGrid />
      <Sliders />
      <Curves />
      <Paths />
      <Areas />
      <Waves />
      <Dots />
      <Zigzag />
      <Flow />
      <Trend />
      <Hatch />
      <Oscill />
      <Minis />
      <Arcs />
      <Three />
      <Cross />
      <Watermarks />
      <Footer />
    </div>
  );
}
